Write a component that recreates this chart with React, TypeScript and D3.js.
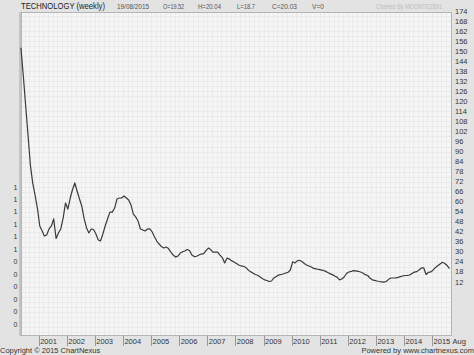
import React, { useRef, useEffect } from "react";
import * as d3 from "d3";

// weekly chart, read off roughly once a month (May 2000 .. Aug 2015)
const startYear = 2000;
const startMonth = 4; // May
const closeValues = [
  152, 135.1, 117.8, 99.9, 81.9, 71.2, 64, 56.2, 45.5, 42.5, 39.5, 40.1,
  43.7, 45.5, 49.7, 38, 41.3, 43.7, 50.3, 59.2, 55.6, 62.2, 67, 71.2,
  66.4, 61.6, 57.4, 49.7, 44.3, 41.3, 43.7, 43.4, 40.7, 37.1, 36.5, 40.7,
  45.5, 49.7, 53.8, 53.8, 56.2, 61.6, 62.2, 62.2, 63.4, 62.2, 61, 58,
  52.6, 50.9, 48.5, 43.7, 43.1, 42.5, 43.7, 43.7, 41.9, 38.9, 36.5, 34.7,
  33.2, 32.3, 32.9, 32, 29.9, 28.1, 26.9, 27.5, 29.3, 30.1, 30.5, 31.4,
  30.8, 28.1, 27.2, 27.4, 28.1, 28.7, 29, 30.8, 32.3, 31.4, 29.9, 29.9,
  29.9, 28.1, 26.6, 23.4, 26.3, 25.7, 24.6, 24, 23.1, 22.2, 21.6, 21.4,
  20.7, 19.2, 18.2, 17.4, 16.5, 16, 15.1, 14.1, 13.3, 12.9, 12.3, 12.6,
  14.4, 15.3, 16.1, 16.5, 16.8, 17.4, 17.8, 19.2, 24, 23.4, 24.6, 25,
  24.3, 23.1, 22.2, 21.6, 21, 20.1, 19.9, 19.5, 19.2, 18.9, 18.5, 17.7,
  17, 16.4, 15.6, 14.9, 13.3, 13.8, 15, 17.1, 18, 18.3, 18.8, 18.7,
  18.4, 18, 17.4, 16.4, 15.9, 14.4, 13.3, 13, 12.6, 12.3, 12.1, 11.9,
  12.3, 13.6, 14.4, 14.4, 14.5, 14.8, 15.2, 15.6, 15.9, 16, 16.2, 17.1,
  17.9, 18.2, 19.2, 20.4, 20.4, 16.5, 17.8, 18, 19.2, 20.7, 21.7, 22.8,
  23.8, 23.1, 21.9, 20.03,
];
const priceTicks = d3.range(12, 175, 6);
const volumeTickLabels = ["1", "1", "1", "1", "1", "1", "0", "0", "0", "0", "0", "0"];
const yearLabels = ["2001", "2002", "2003", "2004", "2005", "2006", "2007", "2008",
  "2009", "2010", "2011", "2012", "2013", "2014", "2015"];
const headerItems = ["19/08/2015", "O=19.52", "H=20.04", "L=18.7", "C=20.03", "V=0"];

const W = 474;
const H = 355;
const font = "'Liberation Sans', Arial, sans-serif";

const App = () => {
  const svgRef = useRef(null);

  useEffect(() => {
    const svg = d3.select(svgRef.current);
    svg.selectAll("*").remove();

    const left = 21, right = 452, top = 12, bottom = 336;

    const x = d3.scaleTime()
      .domain([new Date(2001, 0, 1), new Date(2015, 0, 1)])
      .range([38.7, 38.7 + 14 * 28.1]);
    const y = d3.scaleLinear().domain([12, 174]).range([282, 11]);

    const data = closeValues.map((v, i) => ({
      date: new Date(startYear, startMonth + i, 15),
      value: v,
    }));

    svg.append("rect").attr("width", W).attr("height", H).attr("fill", "#e3e3e3");
    svg.append("rect")
      .attr("x", left).attr("y", top)
      .attr("width", right - left).attr("height", bottom - top)
      .attr("fill", "#f5f5f5");

    // grid
    const grid = svg.append("g");
    const months = d3.timeMonth.every(2).range(x.invert(left), x.invert(right));
    grid.selectAll("line.v")
      .data(months)
      .join("line")
      .attr("x1", (d) => Math.round(x(d)) + 0.5)
      .attr("x2", (d) => Math.round(x(d)) + 0.5)
      .attr("y1", top).attr("y2", bottom)
      .attr("stroke", "#ebebeb");
    grid.selectAll("line.h")
      .data(d3.range(-21, 175, 3))
      .join("line")
      .attr("x1", left).attr("x2", right)
      .attr("y1", (d) => Math.round(y(d)) + 0.5)
      .attr("y2", (d) => Math.round(y(d)) + 0.5)
      .attr("stroke", "#ebebeb")
      .attr("display", (d) => (y(d) > top && y(d) < bottom ? null : "none"));

    // left dark strip + border
    svg.append("rect").attr("x", left - 2).attr("y", top).attr("width", 2)
      .attr("height", bottom - top).attr("fill", "#c4c4c4");
    svg.append("rect")
      .attr("x", left + 0.5).attr("y", top + 0.5)
      .attr("width", right - left - 1).attr("height", bottom - top - 1)
      .attr("fill", "none").attr("stroke", "#b4b4b4");

    // price line
    const line = d3.line()
      .x((d) => x(d.date))
      .y((d) => y(d.value));
    svg.append("path")
      .datum(data)
      .attr("d", line)
      .attr("fill", "none")
      .attr("stroke", "#3a3a3a")
      .attr("stroke-width", 1.2)
      .attr("stroke-linejoin", "round");

    // right price axis
    svg.append("g")
      .selectAll("text")
      .data(priceTicks)
      .join("text")
      .attr("x", 455)
      .attr("y", (d) => y(d) + 2.5)
      .attr("font-family", font)
      .attr("font-size", "7.5px")
      .attr("fill", "#333")
      .text((d) => d);

    // left volume axis
    const vy = d3.scalePoint().domain(d3.range(volumeTickLabels.length)).range([187, 324]);
    svg.append("g")
      .selectAll("text")
      .data(volumeTickLabels)
      .join("text")
      .attr("x", 17.5)
      .attr("y", (_, i) => vy(i) + 2.5)
      .attr("text-anchor", "end")
      .attr("font-family", font)
      .attr("font-size", "7px")
      .attr("fill", "#333")
      .text((d) => d);

    // year axis
    const years = yearLabels.map((l) => ({ label: l, date: new Date(+l, 0, 1) }));
    const xa = svg.append("g");
    xa.selectAll("line")
      .data(years)
      .join("line")
      .attr("x1", (d) => Math.round(x(d.date)) + 0.5)
      .attr("x2", (d) => Math.round(x(d.date)) + 0.5)
      .attr("y1", bottom).attr("y2", 346)
      .attr("stroke", "#999");
    xa.selectAll("text")
      .data(years)
      .join("text")
      .attr("x", (d) => x(d.date) + 1.5)
      .attr("y", 344)
      .attr("font-family", font)
      .attr("font-size", "7.5px")
      .attr("fill", "#333")
      .text((d) => d.label);
    xa.append("text")
      .attr("x", right + 0.5).attr("y", 344)
      .attr("font-family", font).attr("font-size", "7.5px").attr("fill", "#333")
      .text("Aug");

    // header
    svg.append("text")
      .attr("x", 21).attr("y", 9)
      .attr("font-family", font).attr("font-size", "9px").attr("fill", "#222")
      .attr("textLength", 84).attr("lengthAdjust", "spacingAndGlyphs")
      .text("TECHNOLOGY (weekly)");
    const hx = [117, 163, 198, 237, 272, 312];
    const hw = [32, 21, 23, 18, 25, 12];
    svg.append("g")
      .selectAll("text")
      .data(headerItems)
      .join("text")
      .attr("x", (_, i) => hx[i])
      .attr("y", 9)
      .attr("font-family", font)
      .attr("font-size", "7px")
      .attr("fill", "#555")
      .attr("textLength", (_, i) => hw[i])
      .attr("lengthAdjust", "spacingAndGlyphs")
      .text((d) => d);
    svg.append("text")
      .attr("x", 376).attr("y", 9)
      .attr("font-family", font).attr("font-size", "6.3px").attr("fill", "#bdbdbd")
      .attr("textLength", 66).attr("lengthAdjust", "spacingAndGlyphs")
      .text("Charted By MOONTEZ891");

    // footer
    svg.append("text")
      .attr("x", 0).attr("y", 353)
      .attr("font-family", font).attr("font-size", "7.5px").attr("fill", "#333")
      .text("Copyright © 2015 ChartNexus");
    svg.append("text")
      .attr("x", 474).attr("y", 353).attr("text-anchor", "end")
      .attr("font-family", font).attr("font-size", "7.5px").attr("fill", "#333")
      .text("Powered by www.chartnexus.com");
  }, []);

  return (
    <svg
      ref={svgRef}
      width={W}
      height={H}
      style={{ position: "absolute", left: 0, top: 0, display: "block" }}
    ></svg>
  );
};

export default App;
